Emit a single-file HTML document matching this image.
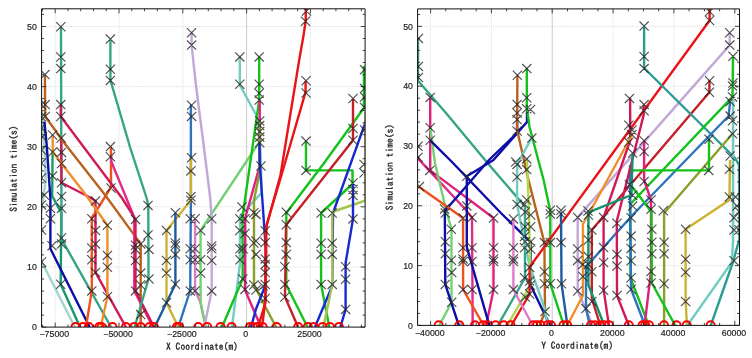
<!DOCTYPE html>
<html><head><meta charset="utf-8"><title>Simulation time vs coordinates</title>
<style>html,body{margin:0;padding:0;background:#fff;width:752px;height:358px;overflow:hidden}svg{display:block;filter:blur(0.3px)}</style>
</head><body>
<svg width="752" height="358" viewBox="0 0 752 358">
<rect width="752" height="358" fill="#fff"/>
<g stroke-linejoin="round" stroke-linecap="butt">
<style>polyline{fill:none;stroke-width:2.4}circle{fill:none;stroke:#ff0000;stroke-width:1.9}</style>
<clipPath id="c1"><rect x="41.6" y="8.8" width="323.5" height="318.3"/></clipPath>
<g clip-path="url(#c1)">
<path d="M55.2 8.8V327.1M119 8.8V327.1M182.8 8.8V327.1M310.4 8.8V327.1M41.6 267H365.1M41.6 206.8H365.1M41.6 146.7H365.1M41.6 86.6H365.1M41.6 26.5H365.1" stroke="#d2d2d2" stroke-width="0.8" stroke-dasharray="1 1.1" fill="none"/>
<path d="M246.6 8.8V327.1" stroke="#c4c4c4" stroke-width="0.9" fill="none"/>
<polyline points="74.8,327 41.5,261.3 39,256" stroke="#a3d5d0"/>
<polyline points="41,214 45.8,180 45,160 43.5,135 42,110" stroke="#a3d5d0"/>
<polyline points="80,327 60.7,284.2 61.3,212.8 52.2,196 52.6,151" stroke="#169a6c"/>
<polyline points="89.6,327 50.4,248.7 50.4,198 46.7,145 44.4,121.6" stroke="#0d0da8"/>
<polyline points="111,327 61.5,239 61,26.8" stroke="#36a486"/>
<polyline points="125.9,327 95.5,272.4 95.5,201 91.1,198 61.5,182.7 61.2,138" stroke="#d01a58"/>
<polyline points="86,327 91.8,290.9 91.8,217.2 94.5,213.8 111,187 111,146.6" stroke="#f0501c"/>
<polyline points="100.7,327 107.4,296.8 107.4,225.3 85.9,195 52.8,152 52.6,135" stroke="#f08e2a"/>
<polyline points="140.7,327 140.7,243.9 105.1,195 65.9,145 45.2,116.5 44.9,74.6" stroke="#b8621c"/>
<polyline points="153,327 134.3,291 134.3,217.5 111.2,161.3 111.2,156" stroke="#e42a88"/>
<polyline points="154,327 135.5,290.9 135.5,219.4 122,198 84.4,148 60.8,116.5 60.8,104.6" stroke="#d01a58"/>
<polyline points="134.7,327 148.5,279 148.3,205.4 146.6,198 130.3,148 114.8,95 110.4,80.4 110.4,39.1" stroke="#36a486"/>
<polyline points="178.3,327 190.2,290.5 190.9,200 190.9,104.6" stroke="#2e74bd"/>
<polyline points="178.3,327 166.5,302.7 166.5,230.5 190.9,200.2 190.9,158.3" stroke="#cdb232"/>
<polyline points="154.7,327 175.4,284.2 175.4,212.8" stroke="#1d5c9c"/>
<polyline points="205.7,327 200.6,302.7 195.1,290.9 195.1,218.7" stroke="#de7cc8"/>
<polyline points="205.7,327 200.6,302.7 200.6,230.5 259.3,142" stroke="#74d074"/>
<polyline points="204.3,327 211.7,290.9 211.7,218.7 210.2,198 204,148 195.8,84 191.6,45.1 191.6,32.8" stroke="#c2a8d8"/>
<polyline points="239.8,56.9 239.8,85 257.5,117.5 260,140 261,165 261.5,193 240,216 239.8,265 232,327" stroke="#72ccc2"/>
<polyline points="222,327 242.7,279 242.5,217 259.2,100 259.2,56.9" stroke="#14c21c"/>
<polyline points="261,327 245,290 245,218.7 259.7,166 259.7,100" stroke="#e0207c"/>
<polyline points="276,327 254,285 254,200 259.7,172 259.7,121" stroke="#8a9e2a"/>
<polyline points="251,327 256,309 265.5,285 266,252 259.7,162 259.5,143" stroke="#1828d2"/>
<polyline points="305.9,4 305.7,20.7 303.6,35 299.2,60 293.5,95 280.5,175 265.5,230 265.3,303 258,327" stroke="#ea1418"/>
<polyline points="305.6,80.7 305.6,91.8 281.5,175 266.5,225 265.5,300 262,327" stroke="#ea1418"/>
<polyline points="306,141.1 306,170.4 352.5,170.4 352.5,184 321.1,213 321.1,284.4 329.3,327" stroke="#14c21c"/>
<polyline points="363.9,65.9 363.9,108 324.1,163 286.3,213 286.3,285 307.5,327" stroke="#14c21c"/>
<polyline points="353,98.5 353,140.3 286,225 285,297 298,327" stroke="#c42028"/>
<polyline points="367,118 333,213 332.2,286 315,327" stroke="#1828d2"/>
<polyline points="365.6,112 365.6,201" stroke="#8a9e2a"/>
<polyline points="365.6,200.5 332.2,212 332.2,285 323.4,327" stroke="#a4c452"/>
<polyline points="353,184 353,219 345.6,263 345.6,309.4 340.4,327" stroke="#1828d2"/>
<path d="M56.2 22.2L65.4 31.4M56.2 31.4L65.4 22.2M56.2 52.4L65.4 61.6M56.2 61.6L65.4 52.4M56.2 64L65.4 73.2M56.2 73.2L65.4 64M105.8 34.5L115 43.7M105.8 43.7L115 34.5M105.8 64.7L115 73.9M105.8 73.9L115 64.7M105.8 75.8L115 85M105.8 85L115 75.8M187 28.2L196.2 37.4M187 37.4L196.2 28.2M187 40.5L196.2 49.7M187 49.7L196.2 40.5M40.3 70L49.5 79.2M40.3 79.2L49.5 70M235.2 52.3L244.4 61.5M235.2 61.5L244.4 52.3M235.2 79.6L244.4 88.8M235.2 88.8L244.4 79.6M254.6 52.3L263.8 61.5M254.6 61.5L263.8 52.3M254.6 79.6L263.8 88.8M254.6 88.8L263.8 79.6M300.9 16.6L310.1 25.8M300.9 25.8L310.1 16.6M301.5 76.2L310.7 85.4M301.5 85.4L310.7 76.2M359.9 65.1L369.1 74.3M359.9 74.3L369.1 65.1M301.9 6.4L311.1 15.6M301.9 15.6L311.1 6.4M40.6 100L49.8 109.2M40.6 109.2L49.8 100M40.6 111.9L49.8 121.1M40.6 121.1L49.8 111.9M56.2 100L65.4 109.2M56.2 109.2L65.4 100M56.2 111.9L65.4 121.1M56.2 121.1L65.4 111.9M56.6 133.4L65.8 142.6M56.6 142.6L65.8 133.4M48 130.4L57.2 139.6M48 139.6L57.2 130.4M37.9 132.4L47.1 141.6M37.9 141.6L47.1 132.4M105.8 142L115 151.2M105.8 151.2L115 142M105.8 152.1L115 161.3M105.8 161.3L115 152.1M187 100.6L196.2 109.8M187 109.8L196.2 100.6M187 111.8L196.2 121M187 121L196.2 111.8M187 153.2L196.2 162.4M187 162.4L196.2 153.2M254.6 88.7L263.8 97.9M254.6 97.9L263.8 88.7M254.6 95.5L263.8 104.7M254.6 104.7L263.8 95.5M255.1 116.4L264.3 125.6M255.1 125.6L264.3 116.4M255.1 121L264.3 130.2M255.1 130.2L264.3 121M255.1 127L264.3 136.2M255.1 136.2L264.3 127M255.1 132.5L264.3 141.7M255.1 141.7L264.3 132.5M255.1 138.1L264.3 147.3M255.1 147.3L264.3 138.1M301.5 88.4L310.7 97.6M301.5 97.6L310.7 88.4M301.4 136.5L310.6 145.7M301.4 145.7L310.6 136.5M348.4 93.9L357.6 103.1M348.4 103.1L357.6 93.9M348.4 123.9L357.6 133.1M348.4 133.1L357.6 123.9M348.4 135.7L357.6 144.9M348.4 144.9L357.6 135.7M359.9 83.9L369.1 93.1M359.9 93.1L369.1 83.9M359.9 92.4L369.1 101.6M359.9 101.6L369.1 92.4M359.9 102.8L369.1 112M359.9 112L369.1 102.8M359.9 125.4L369.1 134.6M359.9 134.6L369.1 125.4M36.9 100.4L46.1 109.6M36.9 109.6L46.1 100.4M36.9 112.4L46.1 121.6M36.9 121.6L46.1 112.4M36.9 123.4L46.1 132.6M36.9 132.6L46.1 123.4M36.9 145.4L46.1 154.6M36.9 154.6L46.1 145.4M36.9 158.4L46.1 167.6M36.9 167.6L46.1 158.4M36.9 173.4L46.1 182.6M36.9 182.6L46.1 173.4M36.9 200.4L46.1 209.6M36.9 209.6L46.1 200.4M36.9 225.4L46.1 234.6M36.9 234.6L46.1 225.4M36.9 257.4L46.1 266.6M36.9 266.6L46.1 257.4M56.9 147.8L66.1 157M56.9 157L66.1 147.8M56.9 158.9L66.1 168.1M56.9 168.1L66.1 158.9M56.9 178.1L66.1 187.3M56.9 187.3L66.1 178.1M106.4 183.4L115.6 192.6M106.4 192.6L115.6 183.4M48 147.4L57.2 156.6M48 156.6L57.2 147.4M48 171.4L57.2 180.6M48 180.6L57.2 171.4M45.8 203.7L55 212.9M45.8 212.9L55 203.7M45.8 214.1L55 223.3M45.8 223.3L55 214.1M56.9 191.9L66.1 201.1M56.9 201.1L66.1 191.9M56.9 203.7L66.1 212.9M56.9 212.9L66.1 203.7M56.9 233.4L66.1 242.6M56.9 242.6L66.1 233.4M56.9 239.4L66.1 248.6M56.9 248.6L66.1 239.4M90.9 196.3L100.1 205.5M90.9 205.5L100.1 196.3M87.2 214.1L96.4 223.3M87.2 223.3L96.4 214.1M90.9 225.9L100.1 235.1M90.9 235.1L100.1 225.9M90.9 239.3L100.1 248.5M90.9 248.5L100.1 239.3M102.8 220.7L112 229.9M102.8 229.9L112 220.7M130.9 214.8L140.1 224M130.9 224L140.1 214.8M130.9 240.7L140.1 249.9M130.9 249.9L140.1 240.7M136.1 239.3L145.3 248.5M136.1 248.5L145.3 239.3M143.4 200.8L152.6 210M143.4 210L152.6 200.8M143.4 230.4L152.6 239.6M143.4 239.6L152.6 230.4M39.8 190.4L49 199.6M39.8 199.6L49 190.4M186.3 166.3L195.5 175.5M186.3 175.5L195.5 166.3M186.3 192.2L195.5 201.4M186.3 201.4L195.5 192.2M186.3 195.6L195.5 204.8M186.3 204.8L195.5 195.6M161.9 225.9L171.1 235.1M161.9 235.1L171.1 225.9M170.8 208.2L180 217.4M170.8 217.4L180 208.2M170.8 238.4L180 247.6M170.8 247.6L180 238.4M185.6 214.1L194.8 223.3M185.6 223.3L194.8 214.1M190.5 214.1L199.7 223.3M190.5 223.3L199.7 214.1M196 225.9L205.2 235.1M196 235.1L205.2 225.9M207.1 214.1L216.3 223.3M207.1 223.3L216.3 214.1M207.1 241.4L216.3 250.6M207.1 250.6L216.3 241.4M235.2 214.1L244.4 223.3M235.2 223.3L244.4 214.1M237.4 202.4L246.6 211.6M237.4 211.6L246.6 202.4M240.4 214.1L249.6 223.3M240.4 223.3L249.6 214.1M235.2 225.9L244.4 235.1M235.2 235.1L244.4 225.9M240.4 228.9L249.6 238.1M240.4 238.1L249.6 228.9M249.2 208.2L258.4 217.4M249.2 217.4L258.4 208.2M249.2 238.4L258.4 247.6M249.2 247.6L258.4 238.4M301.4 165.8L310.6 175M301.4 175L310.6 165.8M348.4 178.4L357.6 187.6M348.4 187.6L357.6 178.4M348.4 184.9L357.6 194.1M348.4 194.1L357.6 184.9M348.4 190.9L357.6 200.1M348.4 200.1L357.6 190.9M359.4 168.4L368.6 177.6M359.4 177.6L368.6 168.4M359.4 159.8L368.6 169M359.4 169L368.6 159.8M256.4 161.4L265.6 170.6M256.4 170.6L265.6 161.4M260.6 226.1L269.8 235.3M260.6 235.3L269.8 226.1M260.6 238L269.8 247.2M260.6 247.2L269.8 238M260.6 254.3L269.8 263.5M260.6 263.5L269.8 254.3M281.7 207.6L290.9 216.8M281.7 216.8L290.9 207.6M281.7 220.2L290.9 229.4M281.7 229.4L290.9 220.2M281.7 238L290.9 247.2M281.7 247.2L290.9 238M281.7 249.8L290.9 259M281.7 259L290.9 249.8M316.5 208.4L325.7 217.6M316.5 217.6L325.7 208.4M316.5 238.7L325.7 247.9M316.5 247.9L325.7 238.7M316.5 249.8L325.7 259M316.5 259L325.7 249.8M327.6 208.4L336.8 217.6M327.6 217.6L336.8 208.4M327.6 238.7L336.8 247.9M327.6 247.9L336.8 238.7M327.6 249.8L336.8 259M327.6 259L336.8 249.8M348.4 214.3L357.6 223.5M348.4 223.5L357.6 214.3M251.4 209.8L260.6 219M251.4 219L260.6 209.8M251.4 236.4L260.6 245.6M251.4 245.6L260.6 236.4M251.4 249.8L260.6 259M251.4 259L260.6 249.8M56.1 279.6L65.3 288.8M56.1 288.8L65.3 279.6M47.4 241.1L56.6 250.3M47.4 250.3L56.6 241.1M87.2 243.4L96.4 252.6M87.2 252.6L96.4 243.4M87.2 255.2L96.4 264.4M87.2 264.4L96.4 255.2M90.9 267.8L100.1 277M90.9 277L100.1 267.8M87.2 286.3L96.4 295.5M87.2 295.5L96.4 286.3M102.8 250.8L112 260M102.8 260L112 250.8M102.8 262.6L112 271.8M102.8 271.8L112 262.6M102.8 292.2L112 301.4M102.8 301.4L112 292.2M130.9 244.8L140.1 254M130.9 254L140.1 244.8M130.9 255.9L140.1 265.1M130.9 265.1L140.1 255.9M136.1 268.5L145.3 277.7M136.1 277.7L145.3 268.5M136.1 280.4L145.3 289.6M136.1 289.6L145.3 280.4M130.9 286.3L140.1 295.5M130.9 295.5L140.1 286.3M144.4 244.8L153.6 254M144.4 254L153.6 244.8M144.4 274.4L153.6 283.6M144.4 283.6L153.6 274.4M136.1 310L145.3 319.2M136.1 319.2L145.3 310M161.9 255.9L171.1 265.1M161.9 265.1L171.1 255.9M161.9 268.5L171.1 277.7M161.9 277.7L171.1 268.5M161.9 298.1L171.1 307.3M161.9 307.3L171.1 298.1M170.8 241.1L180 250.3M170.8 250.3L180 241.1M170.8 250L180 259.2M170.8 259.2L180 250M170.8 279.6L180 288.8M170.8 288.8L180 279.6M185.6 244.1L194.8 253.3M185.6 253.3L194.8 244.1M185.6 255.2L194.8 264.4M185.6 264.4L194.8 255.2M190.5 244.1L199.7 253.3M190.5 253.3L199.7 244.1M190.5 255.2L199.7 264.4M190.5 264.4L199.7 255.2M196 255.2L205.2 264.4M196 264.4L205.2 255.2M196 268.5L205.2 277.7M196 277.7L205.2 268.5M185.6 286.3L194.8 295.5M185.6 295.5L194.8 286.3M190.5 286.3L199.7 295.5M190.5 295.5L199.7 286.3M207.1 244.1L216.3 253.3M207.1 253.3L216.3 244.1M207.1 255.9L216.3 265.1M207.1 265.1L216.3 255.9M207.1 286.3L216.3 295.5M207.1 295.5L216.3 286.3M235.4 244.1L244.6 253.3M235.4 253.3L244.6 244.1M238.4 244.1L247.6 253.3M238.4 253.3L247.6 244.1M235.4 255.2L244.6 264.4M235.4 264.4L244.6 255.2M238.1 274.4L247.3 283.6M238.1 283.6L247.3 274.4M240.4 284.8L249.6 294M240.4 294L249.6 284.8M249.2 280.4L258.4 289.6M249.2 289.6L258.4 280.4M260.6 259.8L269.8 269M260.6 269L269.8 259.8M260.6 268L269.8 277.2M260.6 277.2L269.8 268M260.6 279.8L269.8 289M260.6 289L269.8 279.8M260.6 293.9L269.8 303.1M260.6 303.1L269.8 293.9M280.3 262.1L289.5 271.3M280.3 271.3L289.5 262.1M280.3 279.8L289.5 289M280.3 289L289.5 279.8M280.3 292.4L289.5 301.6M280.3 301.6L289.5 292.4M316.5 279.8L325.7 289M316.5 289L325.7 279.8M327.6 279.8L336.8 289M327.6 289L336.8 279.8M341 262.1L350.2 271.3M341 271.3L350.2 262.1M341 274.6L350.2 283.8M341 283.8L350.2 274.6M341 304.8L350.2 314M341 314L350.2 304.8M258.4 281.4L267.6 290.6M258.4 290.6L267.6 281.4M251.4 285.4L260.6 294.6M251.4 294.6L260.6 285.4" stroke="#262626" stroke-width="1.2" fill="none" opacity="0.8"/>
<circle cx="75.5" cy="327.1" r="4.1"/>
<circle cx="82.9" cy="327.1" r="4.1"/>
<circle cx="88.9" cy="327.1" r="4.1"/>
<circle cx="99.2" cy="327.1" r="4.1"/>
<circle cx="101.5" cy="327.1" r="4.1"/>
<circle cx="112.5" cy="327.1" r="4.1"/>
<circle cx="125.9" cy="327.1" r="4.1"/>
<circle cx="134" cy="327.1" r="4.1"/>
<circle cx="140.7" cy="327.1" r="4.1"/>
<circle cx="149.5" cy="327.1" r="4.1"/>
<circle cx="153.9" cy="327.1" r="4.1"/>
<circle cx="176.9" cy="327.1" r="4.1"/>
<circle cx="179.1" cy="327.1" r="4.1"/>
<circle cx="198.3" cy="327.1" r="4.1"/>
<circle cx="207.2" cy="327.1" r="4.1"/>
<circle cx="220.5" cy="327.1" r="4.1"/>
<circle cx="231.6" cy="327.1" r="4.1"/>
<circle cx="250" cy="327.1" r="4.1"/>
<circle cx="253" cy="327.1" r="4.1"/>
<circle cx="257.5" cy="327.1" r="4.1"/>
<circle cx="262.7" cy="327.1" r="4.1"/>
<circle cx="276.7" cy="327.1" r="4.1"/>
<circle cx="298.2" cy="327.1" r="4.1"/>
<circle cx="307.8" cy="327.1" r="4.1"/>
<circle cx="313.7" cy="327.1" r="4.1"/>
<circle cx="322.6" cy="327.1" r="4.1"/>
<circle cx="330" cy="327.1" r="4.1"/>
<circle cx="338.9" cy="327.1" r="4.1"/>
</g>
<rect x="41.6" y="8.8" width="323.5" height="318.3" fill="none" stroke="#111" stroke-width="1.0"/>
<path d="M55.2 327.1v-4.5M55.2 8.8v4.5M119 327.1v-4.5M119 8.8v4.5M182.8 327.1v-4.5M182.8 8.8v4.5M246.6 327.1v-4.5M246.6 8.8v4.5M310.4 327.1v-4.5M310.4 8.8v4.5M42.4 327.1v-2.5M42.4 8.8v2.5M68 327.1v-2.5M68 8.8v2.5M80.7 327.1v-2.5M80.7 8.8v2.5M93.5 327.1v-2.5M93.5 8.8v2.5M106.2 327.1v-2.5M106.2 8.8v2.5M131.8 327.1v-2.5M131.8 8.8v2.5M144.5 327.1v-2.5M144.5 8.8v2.5M157.3 327.1v-2.5M157.3 8.8v2.5M170 327.1v-2.5M170 8.8v2.5M195.6 327.1v-2.5M195.6 8.8v2.5M208.3 327.1v-2.5M208.3 8.8v2.5M221.1 327.1v-2.5M221.1 8.8v2.5M233.8 327.1v-2.5M233.8 8.8v2.5M259.4 327.1v-2.5M259.4 8.8v2.5M272.1 327.1v-2.5M272.1 8.8v2.5M284.9 327.1v-2.5M284.9 8.8v2.5M297.6 327.1v-2.5M297.6 8.8v2.5M323.2 327.1v-2.5M323.2 8.8v2.5M335.9 327.1v-2.5M335.9 8.8v2.5M348.7 327.1v-2.5M348.7 8.8v2.5M361.4 327.1v-2.5M361.4 8.8v2.5M41.6 327.1h4.5M365.1 327.1h-4.5M41.6 315.1h2.5M365.1 315.1h-2.5M41.6 303h2.5M365.1 303h-2.5M41.6 291h2.5M365.1 291h-2.5M41.6 279h2.5M365.1 279h-2.5M41.6 267h4.5M365.1 267h-4.5M41.6 254.9h2.5M365.1 254.9h-2.5M41.6 242.9h2.5M365.1 242.9h-2.5M41.6 230.9h2.5M365.1 230.9h-2.5M41.6 218.9h2.5M365.1 218.9h-2.5M41.6 206.8h4.5M365.1 206.8h-4.5M41.6 194.8h2.5M365.1 194.8h-2.5M41.6 182.8h2.5M365.1 182.8h-2.5M41.6 170.8h2.5M365.1 170.8h-2.5M41.6 158.7h2.5M365.1 158.7h-2.5M41.6 146.7h4.5M365.1 146.7h-4.5M41.6 134.7h2.5M365.1 134.7h-2.5M41.6 122.7h2.5M365.1 122.7h-2.5M41.6 110.6h2.5M365.1 110.6h-2.5M41.6 98.6h2.5M365.1 98.6h-2.5M41.6 86.6h4.5M365.1 86.6h-4.5M41.6 74.6h2.5M365.1 74.6h-2.5M41.6 62.5h2.5M365.1 62.5h-2.5M41.6 50.5h2.5M365.1 50.5h-2.5M41.6 38.5h2.5M365.1 38.5h-2.5M41.6 26.5h4.5M365.1 26.5h-4.5M41.6 14.4h2.5M365.1 14.4h-2.5" stroke="#1a1a1a" stroke-width="0.8" fill="none"/>
<clipPath id="c2"><rect x="417.6" y="8.9" width="321.9" height="316.5"/></clipPath>
<g clip-path="url(#c2)">
<path d="M430.6 8.9V325.4M491.4 8.9V325.4M613.1 8.9V325.4M673.9 8.9V325.4M734.8 8.9V325.4M417.6 265.6H739.5M417.6 205.8H739.5M417.6 146H739.5M417.6 86.2H739.5M417.6 26.4H739.5" stroke="#d2d2d2" stroke-width="0.8" stroke-dasharray="1 1.1" fill="none"/>
<path d="M552.2 8.9V325.4" stroke="#c4c4c4" stroke-width="0.9" fill="none"/>
<polyline points="418,38.4 418,80.7 446,113 487.5,163 525,206.5 525,278 497.5,326" stroke="#36a486"/>
<polyline points="430.2,97.4 430.2,170.4 493.5,218 493.5,290 486,326" stroke="#e0207c"/>
<polyline points="412,152 466,210 472,217.4 472.7,326" stroke="#e42a88"/>
<polyline points="430.2,128 435,163 446.8,213 451.5,229 451.5,302.5 439,326" stroke="#74d074"/>
<polyline points="430.2,140.3 452,162 500.9,213 530.5,242 530.5,285 550.3,326" stroke="#0d0da8"/>
<polyline points="517.1,121.8 517.1,133 489,160 444.8,211 445.3,284.4 459,326" stroke="#0d0da8"/>
<polyline points="527,110.8 527,122 493.5,160 466.8,176.3 466.8,247 489.5,326" stroke="#0d0da8"/>
<polyline points="418.5,186.6 463.1,218 463.1,289.5 484,326" stroke="#f0501c"/>
<polyline points="517.4,75.3 517.1,130 528.5,180 544.4,242.6 545,311.6 539.5,326" stroke="#b8621c"/>
<polyline points="526.8,68.1 526.8,107 529.5,127 543.6,180 550.3,211 550.3,283.7 564,326" stroke="#14c21c"/>
<polyline points="532,137.7 517.1,164 517.1,205 529.6,266 543.5,305 548,326" stroke="#72ccc2"/>
<polyline points="527,160 529,213 530.5,285 507,326" stroke="#b0d848"/>
<polyline points="709.6,4 709.6,20.5 529.6,267 529.6,294 511,326" stroke="#ea1418"/>
<polyline points="729.7,32.8 729.7,45.1 577.7,217.4 577.7,291 593,326" stroke="#c2a8d8"/>
<polyline points="709.4,80 709.4,92.3 591.8,230 591.8,298.5 600.5,326" stroke="#c42028"/>
<polyline points="644.1,26.1 644.1,68 735,158 739,165 739.4,239 733,262 710.6,326" stroke="#2a9c94"/>
<polyline points="733,56.3 732.5,96.9 630,204.5 630.5,278 649,326" stroke="#14c21c"/>
<polyline points="730.2,101.5 728.6,116 632.6,215 592.5,259.6 586,266 586,308.6 590,326" stroke="#2e74bd"/>
<polyline points="732.5,133.8 664.1,213 664.1,326" stroke="#8a9e2a"/>
<polyline points="730,160 729.4,200 685.6,229.2 685.6,300 687,326" stroke="#cdb232"/>
<polyline points="644.1,140.7 644.1,180 651,200 651,271.5 644.5,326" stroke="#e0207c"/>
<polyline points="709,138.7 709,170.4 629.5,170.4 630,184 651.5,212 651.8,283 675.5,326" stroke="#14c21c"/>
<polyline points="630,165 631,289 645.2,326" stroke="#2e74bd"/>
<polyline points="630.1,98.1 630.3,140 603.6,217.4 603.6,289.6 609,326" stroke="#d01a58"/>
<polyline points="643.7,104.4 643.7,114.9 616.8,221 617,295.5 629,326" stroke="#d01a58"/>
<polyline points="633,133 591,210 582.9,224 582.9,295.5 567,326" stroke="#f08e2a"/>
<polyline points="632.6,153 631.5,195 588.4,212.3 588.4,285 604.5,326" stroke="#14906c"/>
<polyline points="561,212.3 561.5,283.7 567.5,326" stroke="#1d5c9c"/>
<polyline points="513.4,218.9 513.4,289.6 533,326" stroke="#de7cc8"/>
<polyline points="733,100 733,240 732,262 687,326" stroke="#72ccc2"/>
<path d="M413.8 33.8L423 43M413.8 43L423 33.8M413.8 61.8L423 71M413.8 71L423 61.8M413.8 72.9L423 82.1M413.8 82.1L423 72.9M512.8 70.7L522 79.9M512.8 79.9L522 70.7M522.2 64L531.4 73.2M522.2 73.2L531.4 64M639.5 21.5L648.7 30.7M639.5 30.7L648.7 21.5M639.5 51.9L648.7 61.1M639.5 61.1L648.7 51.9M639.5 64L648.7 73.2M639.5 73.2L648.7 64M705 7L714.2 16.2M705 16.2L714.2 7M705 15.9L714.2 25.1M705 25.1L714.2 15.9M725.1 28.2L734.3 37.4M725.1 37.4L734.3 28.2M725.1 40.5L734.3 49.7M725.1 49.7L734.3 40.5M728.4 51.7L737.6 60.9M728.4 60.9L737.6 51.7M728.4 78.4L737.6 87.6M728.4 87.6L737.6 78.4M705 76.2L714.2 85.4M705 85.4L714.2 76.2M425.6 92.8L434.8 102M425.6 102L434.8 92.8M425.6 123.2L434.8 132.4M425.6 132.4L434.8 123.2M425.6 135.7L434.8 144.9M425.6 144.9L434.8 135.7M413.4 141.7L422.6 150.9M413.4 150.9L422.6 141.7M413.4 152.8L422.6 162M413.4 162L422.6 152.8M512.5 99.8L521.7 109M512.5 109L521.7 99.8M512.5 108.4L521.7 117.6M512.5 117.6L521.7 108.4M512.5 115L521.7 124.2M512.5 124.2L521.7 115M512.5 126.4L521.7 135.6M512.5 135.6L521.7 126.4M522.1 93.1L531.3 102.3M522.1 102.3L531.3 93.1M522.1 104.2L531.3 113.4M522.1 113.4L531.3 104.2M525.9 104.9L535.1 114.1M525.9 114.1L535.1 104.9M527.2 133.5L536.4 142.7M527.2 142.7L536.4 133.5M522.1 154.3L531.3 163.5M522.1 163.5L531.3 154.3M511.1 157.4L520.3 166.6M511.1 166.6L520.3 157.4M624.9 93.8L634.1 103M624.9 103L634.1 93.8M639.5 100L648.7 109.2M639.5 109.2L648.7 100M639.5 106.1L648.7 115.3M639.5 115.3L648.7 106.1M624.2 120.7L633.4 129.9M624.2 129.9L633.4 120.7M624.2 137.7L633.4 146.9M624.2 146.9L633.4 137.7M704.8 87.7L714 96.9M704.8 96.9L714 87.7M727.9 81.4L737.1 90.6M727.9 90.6L737.1 81.4M727.9 92.3L737.1 101.5M727.9 101.5L737.1 92.3M725.6 96.9L734.8 106.1M725.6 106.1L734.8 96.9M639.5 136.1L648.7 145.3M639.5 145.3L648.7 136.1M639.5 146.9L648.7 156.1M639.5 156.1L648.7 146.9M627.4 125.4L636.6 134.6M627.4 134.6L636.6 125.4M627.2 130L636.4 139.2M627.2 139.2L636.4 130M628 148.4L637.2 157.6M628 157.6L637.2 148.4M704.4 134.6L713.6 143.8M704.4 143.8L713.6 134.6M727.9 116.2L737.1 125.4M727.9 125.4L737.1 116.2M727.9 129.2L737.1 138.4M727.9 138.4L737.1 129.2M725.6 111.5L734.8 120.7M725.6 120.7L734.8 111.5M725.6 151.4L734.8 160.6M725.6 160.6L734.8 151.4M425.2 165.8L434.4 175M425.2 175L434.4 165.8M462.2 171.7L471.4 180.9M462.2 180.9L471.4 171.7M462.2 201.3L471.4 210.5M462.2 210.5L471.4 201.3M440 204.3L449.2 213.5M440 213.5L449.2 204.3M414.8 182L424 191.2M414.8 191.2L424 182M512.5 159.8L521.7 169M512.5 169L521.7 159.8M512.5 172.4L521.7 181.6M512.5 181.6L521.7 172.4M512.5 199.8L521.7 209M512.5 209L521.7 199.8M519.9 199.8L529.1 209M519.9 209L529.1 199.8M522.1 165L531.3 174.2M522.1 174.2L531.3 165M522.1 195.4L531.3 204.6M522.1 204.6L531.3 195.4M440.7 208.4L449.9 217.6M440.7 217.6L449.9 208.4M440.7 237.2L449.9 246.4M440.7 246.4L449.9 237.2M440.7 249.1L449.9 258.3M440.7 258.3L449.9 249.1M446.7 224.6L455.9 233.8M446.7 233.8L455.9 224.6M446.7 255.7L455.9 264.9M446.7 264.9L455.9 255.7M458.5 213.5L467.7 222.7M458.5 222.7L467.7 213.5M458.5 243.1L467.7 252.3M458.5 252.3L467.7 243.1M458.5 254.3L467.7 263.5M458.5 263.5L467.7 254.3M467.4 212.8L476.6 222M467.4 222L476.6 212.8M467.4 243.1L476.6 252.3M467.4 252.3L476.6 243.1M488.9 213.5L498.1 222.7M488.9 222.7L498.1 213.5M488.9 243.1L498.1 252.3M488.9 252.3L498.1 243.1M488.9 254.3L498.1 263.5M488.9 263.5L498.1 254.3M508.8 214.3L518 223.5M508.8 223.5L518 214.3M508.8 243.1L518 252.3M508.8 252.3L518 243.1M508.8 254.3L518 263.5M508.8 263.5L518 254.3M519.9 232L529.1 241.2M519.9 241.2L529.1 232M519.9 243.1L529.1 252.3M519.9 252.3L529.1 243.1M545.7 205.7L554.9 214.9M545.7 214.9L554.9 205.7M556.4 205.7L565.6 214.9M556.4 214.9L565.6 205.7M583.4 206.4L592.6 215.6M583.4 215.6L592.6 206.4M624.9 180L634.1 189.2M624.9 189.2L634.1 180M704.1 165.8L713.3 175M704.1 175L713.3 165.8M724.8 164.6L734 173.8M724.8 173.8L734 164.6M724.8 192.3L734 201.5M724.8 201.5L734 192.3M730.9 192.3L740.1 201.5M730.9 201.5L740.1 192.3M732.4 201.4L741.6 210.6M732.4 210.6L741.6 201.4M639.5 176.9L648.7 186.1M639.5 186.1L648.7 176.9M646.4 195.4L655.6 204.6M646.4 204.6L655.6 195.4M646.4 204.6L655.6 213.8M646.4 213.8L655.6 204.6M658.7 206.1L667.9 215.3M658.7 215.3L667.9 206.1M628 190.7L637.2 199.9M628 199.9L637.2 190.7M628 201.5L637.2 210.7M628 210.7L637.2 201.5M520.6 207.4L529.8 216.6M520.6 216.6L529.8 207.4M526.1 210.4L535.3 219.6M526.1 219.6L535.3 210.4M520.6 222.1L529.8 231.3M520.6 231.3L529.8 222.1M526.1 222.1L535.3 231.3M526.1 231.3L535.3 222.1M526.1 237.2L535.3 246.4M526.1 246.4L535.3 237.2M520.6 237.2L529.8 246.4M520.6 246.4L529.8 237.2M526.1 244.4L535.3 253.6M526.1 253.6L535.3 244.4M539.8 238L549 247.2M539.8 247.2L549 238M545.7 209.4L554.9 218.6M545.7 218.6L554.9 209.4M545.7 238L554.9 247.2M545.7 247.2L554.9 238M556.4 209.4L565.6 218.6M556.4 218.6L565.6 209.4M556.4 238L565.6 247.2M556.4 247.2L565.6 238M573.1 212.8L582.3 222M573.1 222L582.3 212.8M583.8 210.4L593 219.6M583.8 219.6L593 210.4M599 212.8L608.2 222M599 222L608.2 212.8M587.2 225.4L596.4 234.6M587.2 234.6L596.4 225.4M612.4 218.7L621.6 227.9M612.4 227.9L621.6 218.7M583.8 235.4L593 244.6M583.8 244.6L593 235.4M599 243L608.2 252.2M599 252.2L608.2 243M573.1 244.4L582.3 253.6M573.1 253.6L582.3 244.4M583.8 252L593 261.2M583.8 261.2L593 252M612.4 249.8L621.6 259M612.4 259L621.6 249.8M626.5 213.1L635.7 222.3M626.5 222.3L635.7 213.1M626.5 231.5L635.7 240.7M626.5 240.7L635.7 231.5M626.5 243.8L635.7 253M626.5 253L635.7 243.8M626.5 256.1L635.7 265.3M626.5 265.3L635.7 256.1M647.2 224.6L656.4 233.8M647.2 233.8L656.4 224.6M647.2 237.7L656.4 246.9M647.2 246.9L656.4 237.7M647.2 249.2L656.4 258.4M647.2 258.4L656.4 249.2M659.5 237.7L668.7 246.9M659.5 246.9L668.7 237.7M659.5 249.2L668.7 258.4M659.5 258.4L668.7 249.2M681 224.6L690.2 233.8M681 233.8L690.2 224.6M681 254.6L690.2 263.8M681 263.8L690.2 254.6M729.4 213.1L738.6 222.3M729.4 222.3L738.6 213.1M729.4 225.4L738.6 234.6M729.4 234.6L738.6 225.4M734.4 206.9L743.6 216.1M734.4 216.1L743.6 206.9M734.4 225.4L743.6 234.6M734.4 234.6L743.6 225.4M447.1 268L456.3 277.2M447.1 277.2L456.3 268M440.7 279.8L449.9 289M440.7 289L449.9 279.8M447.1 297.6L456.3 306.8M447.1 306.8L456.3 297.6M458.5 256.9L467.7 266.1M458.5 266.1L467.7 256.9M467.4 256.9L476.6 266.1M467.4 266.1L476.6 256.9M458.5 285L467.7 294.2M458.5 294.2L467.7 285M467.4 285L476.6 294.2M467.4 294.2L476.6 285M488.9 256.9L498.1 266.1M488.9 266.1L498.1 256.9M488.9 285L498.1 294.2M488.9 294.2L498.1 285M508.8 256.9L518 266.1M508.8 266.1L518 256.9M508.8 285L518 294.2M508.8 294.2L518 285M519.9 273.2L529.1 282.4M519.9 282.4L529.1 273.2M525 262.8L534.2 272M525 272L534.2 262.8M525 276.5L534.2 285.7M525 285.7L534.2 276.5M525.8 280.6L535 289.8M525.8 289.8L535 280.6M525 289.4L534.2 298.6M525 298.6L534.2 289.4M539.8 267.2L549 276.4M539.8 276.4L549 267.2M539.8 279.1L549 288.3M539.8 288.3L549 279.1M545.7 279.1L554.9 288.3M545.7 288.3L554.9 279.1M556.9 279.1L566.1 288.3M556.9 288.3L566.1 279.1M573.1 255.8L582.3 265M573.1 265L582.3 255.8M578.3 259.8L587.5 269M578.3 269L587.5 259.8M578.3 271.9L587.5 281.1M578.3 281.1L587.5 271.9M583.8 259.8L593 269M583.8 269L593 259.8M587.2 267.2L596.4 276.4M587.2 276.4L596.4 267.2M599 257.9L608.2 267.1M599 267.1L608.2 257.9M599 285.7L608.2 294.9M599 294.9L608.2 285.7M612.4 261.4L621.6 270.6M612.4 270.6L621.6 261.4M612.4 290.9L621.6 300.1M612.4 300.1L621.6 290.9M573.1 286.4L582.3 295.6M573.1 295.6L582.3 286.4M581.3 304L590.5 313.2M581.3 313.2L590.5 304M587.2 296.9L596.4 306.1M587.2 306.1L596.4 296.9M540.4 307L549.6 316.2M540.4 316.2L549.6 307M626.5 273.1L635.7 282.3M626.5 282.3L635.7 273.1M626.5 284.6L635.7 293.8M626.5 293.8L635.7 284.6M646.4 266.9L655.6 276.1M646.4 276.1L655.6 266.9M646.4 278.4L655.6 287.6M646.4 287.6L655.6 278.4M659.5 279.2L668.7 288.4M659.5 288.4L668.7 279.2M681 267.7L690.2 276.9M681 276.9L690.2 267.7M681 296.9L690.2 306.1M681 306.1L690.2 296.9M729.4 256.2L738.6 265.4M729.4 265.4L738.6 256.2M520.6 292.4L529.8 301.6M520.6 301.6L529.8 292.4" stroke="#262626" stroke-width="1.2" fill="none" opacity="0.8"/>
<circle cx="438.7" cy="325.4" r="4.1"/>
<circle cx="459.4" cy="325.4" r="4.1"/>
<circle cx="475" cy="325.4" r="4.1"/>
<circle cx="483.1" cy="325.4" r="4.1"/>
<circle cx="487.5" cy="325.4" r="4.1"/>
<circle cx="495.7" cy="325.4" r="4.1"/>
<circle cx="503.8" cy="325.4" r="4.1"/>
<circle cx="510.5" cy="325.4" r="4.1"/>
<circle cx="533.2" cy="325.4" r="4.1"/>
<circle cx="537" cy="325.4" r="4.1"/>
<circle cx="540.7" cy="325.4" r="4.1"/>
<circle cx="547.5" cy="325.4" r="4.1"/>
<circle cx="551" cy="325.4" r="4.1"/>
<circle cx="563.4" cy="325.4" r="4.1"/>
<circle cx="567.2" cy="325.4" r="4.1"/>
<circle cx="591" cy="325.4" r="4.1"/>
<circle cx="595" cy="325.4" r="4.1"/>
<circle cx="600" cy="325.4" r="4.1"/>
<circle cx="604.5" cy="325.4" r="4.1"/>
<circle cx="609" cy="325.4" r="4.1"/>
<circle cx="628.8" cy="325.4" r="4.1"/>
<circle cx="642.6" cy="325.4" r="4.1"/>
<circle cx="645.2" cy="325.4" r="4.1"/>
<circle cx="649" cy="325.4" r="4.1"/>
<circle cx="664" cy="325.4" r="4.1"/>
<circle cx="676.6" cy="325.4" r="4.1"/>
<circle cx="686.7" cy="325.4" r="4.1"/>
<circle cx="710.6" cy="325.4" r="4.1"/>
</g>
<rect x="417.6" y="8.9" width="321.9" height="316.5" fill="none" stroke="#111" stroke-width="1.0"/>
<path d="M430.6 325.4v-4.5M430.6 8.9v4.5M491.4 325.4v-4.5M491.4 8.9v4.5M552.2 325.4v-4.5M552.2 8.9v4.5M613.1 325.4v-4.5M613.1 8.9v4.5M673.9 325.4v-4.5M673.9 8.9v4.5M734.8 325.4v-4.5M734.8 8.9v4.5M445.8 325.4v-2.5M445.8 8.9v2.5M461 325.4v-2.5M461 8.9v2.5M476.2 325.4v-2.5M476.2 8.9v2.5M506.6 325.4v-2.5M506.6 8.9v2.5M521.8 325.4v-2.5M521.8 8.9v2.5M537 325.4v-2.5M537 8.9v2.5M567.5 325.4v-2.5M567.5 8.9v2.5M582.7 325.4v-2.5M582.7 8.9v2.5M597.9 325.4v-2.5M597.9 8.9v2.5M628.3 325.4v-2.5M628.3 8.9v2.5M643.5 325.4v-2.5M643.5 8.9v2.5M658.7 325.4v-2.5M658.7 8.9v2.5M689.1 325.4v-2.5M689.1 8.9v2.5M704.4 325.4v-2.5M704.4 8.9v2.5M719.6 325.4v-2.5M719.6 8.9v2.5M417.6 325.4h4.5M739.5 325.4h-4.5M417.6 313.4h2.5M739.5 313.4h-2.5M417.6 301.5h2.5M739.5 301.5h-2.5M417.6 289.5h2.5M739.5 289.5h-2.5M417.6 277.6h2.5M739.5 277.6h-2.5M417.6 265.6h4.5M739.5 265.6h-4.5M417.6 253.7h2.5M739.5 253.7h-2.5M417.6 241.7h2.5M739.5 241.7h-2.5M417.6 229.7h2.5M739.5 229.7h-2.5M417.6 217.8h2.5M739.5 217.8h-2.5M417.6 205.8h4.5M739.5 205.8h-4.5M417.6 193.9h2.5M739.5 193.9h-2.5M417.6 181.9h2.5M739.5 181.9h-2.5M417.6 169.9h2.5M739.5 169.9h-2.5M417.6 158h2.5M739.5 158h-2.5M417.6 146h4.5M739.5 146h-4.5M417.6 134.1h2.5M739.5 134.1h-2.5M417.6 122.1h2.5M739.5 122.1h-2.5M417.6 110.2h2.5M739.5 110.2h-2.5M417.6 98.2h2.5M739.5 98.2h-2.5M417.6 86.2h4.5M739.5 86.2h-4.5M417.6 74.3h2.5M739.5 74.3h-2.5M417.6 62.3h2.5M739.5 62.3h-2.5M417.6 50.4h2.5M739.5 50.4h-2.5M417.6 38.4h2.5M739.5 38.4h-2.5M417.6 26.4h4.5M739.5 26.4h-4.5M417.6 14.5h2.5M739.5 14.5h-2.5" stroke="#1a1a1a" stroke-width="0.8" fill="none"/>
</g>
<g font-family="Liberation Sans, Arial, sans-serif" font-size="8.8" fill="#1e1e1e" stroke="#1e1e1e" stroke-width="0.18">
<text x="54.3" y="337" text-anchor="middle">−75000</text>
<text x="118.1" y="337" text-anchor="middle">−50000</text>
<text x="181.9" y="337" text-anchor="middle">−25000</text>
<text x="245.7" y="337" text-anchor="middle">0</text>
<text x="309.5" y="337" text-anchor="middle">25000</text>
<text x="429.8" y="336.3" text-anchor="middle">−40000</text>
<text x="490.6" y="336.3" text-anchor="middle">−20000</text>
<text x="551.5" y="336.3" text-anchor="middle">0</text>
<text x="612.3" y="336.3" text-anchor="middle">20000</text>
<text x="673.1" y="336.3" text-anchor="middle">40000</text>
<text x="734" y="336.3" text-anchor="middle">60000</text>
<text x="36.8" y="330.2" text-anchor="end">0</text>
<text x="413" y="328.5" text-anchor="end">0</text>
<text x="36.8" y="270.1" text-anchor="end">10</text>
<text x="413" y="268.7" text-anchor="end">10</text>
<text x="36.8" y="209.9" text-anchor="end">20</text>
<text x="413" y="208.9" text-anchor="end">20</text>
<text x="36.8" y="149.8" text-anchor="end">30</text>
<text x="413" y="149.1" text-anchor="end">30</text>
<text x="36.8" y="89.7" text-anchor="end">40</text>
<text x="413" y="89.3" text-anchor="end">40</text>
<text x="36.8" y="29.6" text-anchor="end">50</text>
<text x="413" y="29.5" text-anchor="end">50</text>
</g>
<g font-family="IPAGothic, monospace" font-size="9.6" fill="#1e1e1e" stroke="#1e1e1e" stroke-width="0.3">
<text x="202" y="349.6" text-anchor="middle">X Coordinate(m)</text>
<text x="577.2" y="348.6" text-anchor="middle">Y Coordinate(m)</text>
<text transform="translate(17.0,168.5) rotate(-90)" text-anchor="middle">Simulation time(s)</text>
<text transform="translate(393.2,167.0) rotate(-90)" text-anchor="middle">Simulation time(s)</text>
</g>
</svg>
</body></html>
